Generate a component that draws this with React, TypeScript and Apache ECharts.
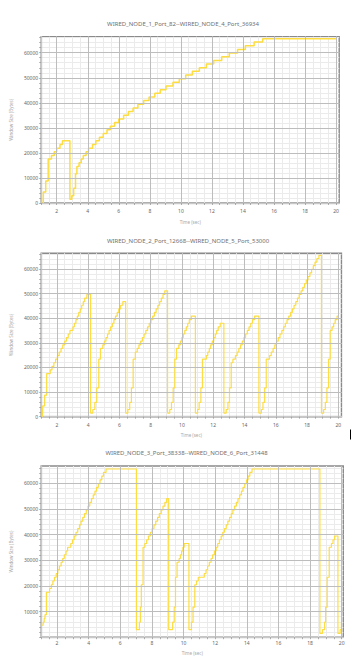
import React, { useEffect, useRef } from 'react';
import * as echarts from 'echarts';

// ---------- data (time in sec, window size in bytes) ----------
const node1Title = 'WIRED_NODE_1_Port_82--WIRED_NODE_4_Port_36934';
const node2Title = 'WIRED_NODE_2_Port_12668--WIRED_NODE_5_Port_53000';
const node3Title = 'WIRED_NODE_3_Port_38338--WIRED_NODE_6_Port_31448';

const xAxisName = 'Time (sec)';
const yAxisName = 'Window Size (Bytes)';

// major grid / labelled ticks
const xMajorTicks = [2, 4, 6, 8, 10, 12, 14, 16, 18, 20];
const yMajorTicks = [10000, 20000, 30000, 40000, 50000, 60000];

const node1Cwnd: [number, number][] = [
  [1.13, 0], [1.14, 4380], [1.29, 8760], [1.45, 17520], [1.66, 18980], [1.84, 20440], [2.0, 21900],
  [2.21, 23360], [2.37, 24820], [2.85, 1460], [2.97, 2920], [3.09, 5840], [3.21, 11680], [3.30, 14600],
  [3.44, 16060], [3.58, 17520], [3.71, 18980], [3.89, 20440], [4.05, 21900], [4.31, 23360], [4.52, 24820],
  [4.75, 26280], [5.0, 27740], [5.24, 29200], [5.45, 30660], [5.73, 32120], [6.0, 33580], [6.31, 35040],
  [6.62, 36500], [6.92, 37960], [7.23, 39420], [7.6, 40880], [7.95, 42340], [8.32, 43800], [8.67, 45260],
  [9.04, 46720], [9.49, 48180], [9.9, 49640], [10.31, 51100], [10.74, 52560], [11.19, 54020], [11.64, 55480],
  [12.11, 56940], [12.63, 58400], [13.12, 59860], [13.65, 61320], [14.15, 62780], [14.72, 64240],
  [15.27, 65535], [20.0, 65535],
];

const node2Cwnd: [number, number][] = [
  [1.08, 0], [1.10, 4380], [1.22, 8760], [1.35, 17520], [1.58, 18980], [1.69, 20440], [1.81, 21900],
  [1.92, 23360], [2.04, 24820], [2.15, 26280], [2.27, 27740], [2.38, 29200], [2.50, 30660], [2.61, 32120],
  [2.73, 33580], [2.84, 35040], [3.03, 36500], [3.12, 37960], [3.22, 39420], [3.31, 40880], [3.40, 42340],
  [3.50, 43800], [3.59, 45260], [3.69, 46720], [3.78, 48180], [3.92, 49640],
  [4.16, 1460], [4.30, 2920], [4.43, 5840], [4.55, 11680], [4.68, 23360], [4.79, 27740], [4.94, 29200],
  [5.04, 30660], [5.14, 32120], [5.24, 33580], [5.34, 35040], [5.44, 36500], [5.55, 37960], [5.65, 39420],
  [5.75, 40880], [5.86, 42340], [5.96, 43800], [6.08, 45260], [6.22, 46720],
  [6.40, 1460], [6.54, 2920], [6.66, 5840], [6.77, 11680], [6.88, 23360], [7.02, 26280], [7.14, 27740],
  [7.25, 29200], [7.36, 30660], [7.47, 32120], [7.58, 33580], [7.69, 35040], [7.80, 36500], [7.91, 37960],
  [8.02, 39420], [8.13, 40880], [8.24, 42340], [8.35, 43800], [8.46, 45260], [8.57, 46720], [8.68, 48180],
  [8.79, 49640], [8.90, 51100],
  [9.08, 1460], [9.22, 2920], [9.33, 5840], [9.44, 11680], [9.54, 23360], [9.65, 27740], [9.80, 29200],
  [9.90, 30660], [9.99, 32120], [10.09, 33580], [10.18, 35040], [10.28, 36500], [10.37, 37960],
  [10.47, 39420], [10.60, 40880],
  [10.86, 1460], [11.00, 2920], [11.10, 5840], [11.21, 11680], [11.31, 23360], [11.56, 24820],
  [11.65, 26280], [11.75, 27740], [11.84, 29200], [11.94, 30660], [12.03, 32120], [12.13, 33580],
  [12.22, 35040], [12.32, 36500], [12.45, 37960],
  [12.68, 1460], [12.83, 2920], [12.94, 5840], [13.04, 11680], [13.15, 21900], [13.26, 23360],
  [13.42, 24820], [13.53, 26280], [13.64, 27740], [13.75, 29200], [13.86, 30660], [13.96, 32120],
  [14.07, 33580], [14.18, 35040], [14.29, 36500], [14.40, 37960], [14.51, 39420], [14.64, 40880],
  [14.92, 1460], [15.08, 2920], [15.18, 5840], [15.29, 11680], [15.39, 23360], [15.60, 24820],
  [15.71, 26280], [15.83, 27740], [15.94, 29200], [16.05, 30660], [16.16, 32120], [16.27, 33580],
  [16.39, 35040], [16.50, 36500], [16.61, 37960], [16.72, 39420], [16.83, 40880], [16.95, 42340],
  [17.06, 43800], [17.17, 45260], [17.28, 46720], [17.39, 48180], [17.50, 49640], [17.62, 51100],
  [17.73, 52560], [17.84, 54020], [17.95, 55480], [18.06, 56940], [18.18, 58400], [18.29, 59860],
  [18.40, 61320], [18.51, 62780], [18.63, 64240], [18.76, 65535],
  [18.92, 1460], [19.06, 2920], [19.17, 5840], [19.27, 11680], [19.38, 23360], [19.48, 35040],
  [19.60, 36500], [19.70, 37960], [19.80, 39420], [19.92, 40880], [20.0, 40880],
];

const node3Cwnd: [number, number][] = [
  [1.10, 4380], [1.14, 5840], [1.19, 7300], [1.24, 8760], [1.33, 17520], [1.53, 18980], [1.64, 20440],
  [1.74, 21900], [1.84, 23360], [1.95, 24820], [2.05, 26280], [2.15, 27740], [2.26, 29200], [2.36, 30660],
  [2.46, 32120], [2.57, 33580], [2.67, 35040], [2.87, 36500], [2.98, 37960], [3.09, 39420], [3.20, 40880],
  [3.31, 42340], [3.42, 43800], [3.52, 45260], [3.63, 46720], [3.74, 48180], [3.85, 49640], [3.96, 51100],
  [4.07, 52560], [4.18, 54020], [4.29, 55480], [4.40, 56940], [4.50, 58400], [4.61, 59860], [4.72, 61320],
  [4.83, 62780], [4.94, 64240], [5.10, 65535],
  [7.02, 2920], [7.21, 5840], [7.27, 11680], [7.33, 20440], [7.44, 35040], [7.55, 36500], [7.67, 37960],
  [7.78, 39420], [7.90, 40880], [8.01, 42340], [8.13, 43800], [8.24, 45260], [8.36, 46720], [8.47, 48180],
  [8.59, 49640], [8.70, 51100], [8.82, 52560], [8.93, 54020],
  [9.06, 2920], [9.31, 5840], [9.41, 11680], [9.49, 23360], [9.59, 29200], [9.72, 30660], [9.80, 32120],
  [9.88, 33580], [9.96, 35040], [10.04, 36500],
  [10.34, 2920], [10.50, 5840], [10.60, 11680], [10.71, 20440], [10.82, 21900], [10.93, 23360],
  [11.31, 24820], [11.42, 26280], [11.52, 27740], [11.63, 29200], [11.74, 30660], [11.84, 32120],
  [11.95, 33580], [12.06, 35040], [12.16, 36500], [12.27, 37960], [12.38, 39420], [12.48, 40880],
  [12.59, 42340], [12.70, 43800], [12.80, 45260], [12.91, 46720], [13.02, 48180], [13.12, 49640],
  [13.23, 51100], [13.34, 52560], [13.44, 54020], [13.55, 55480], [13.66, 56940], [13.76, 58400],
  [13.87, 59860], [13.98, 61320], [14.08, 62780], [14.19, 64240], [14.33, 65535],
  [18.62, 1460], [18.78, 2920], [18.92, 5840], [18.98, 11680], [19.08, 23360], [19.21, 35040],
  [19.35, 36500], [19.45, 37960], [19.55, 39420], [19.76, 1460], [19.90, 2920], [19.98, 5840], [20.0, 5840],
];

// ---------- layout / style ----------
const FONT = 'Noto Sans';
const LINE_COLOR = '#FDDD3F';
const MAJOR = '#bdbdbd';
const MINOR = '#ebebeb';

const panels = [
  {
    title: node1Title, data: node1Cwnd, showZero: true,
    grid: { left: 27, top: 36.7, width: 312.2, height: 166.3 },
    xMax: 20.2, yMax: 66400, titleX: 183, titleY: 20.5,
    labelMargin: 5, xNameGap: 16, yNameGap: 19, lineWidth: 1.5,
  },
  {
    title: node2Title, data: node2Cwnd, showZero: true,
    grid: { left: 35.75, top: 253.2, width: 305.7, height: 163.5 },
    xMax: 20.2, yMax: 66400, titleX: 188, titleY: 237.5,
    labelMargin: 5.5, xNameGap: 15.5, yNameGap: 20, lineWidth: 1.2,
  },
  {
    title: node3Title, data: node3Cwnd, showZero: false,
    grid: { left: 30.6, top: 466, width: 312.7, height: 171.2 },
    xMax: 20.1, yMax: 66700, titleX: 186.5, titleY: 450,
    labelMargin: 3, xNameGap: 13, yNameGap: 20, lineWidth: 1.2,
  },
];

const isEvenInt = (v: number) => {
  const r = Math.round(v);
  return Math.abs(v - r) < 1e-6 && r % 2 === 0;
};

export default function App() {
  const ref = useRef<HTMLDivElement>(null);
  useEffect(() => {
    if (!ref.current) return;
    const chart = echarts.init(ref.current, undefined, { renderer: 'svg' });
    const series: any[] = [];
    panels.forEach((p, i) => {
      // major grid lines (drawn beneath the trace)
      series.push({
        type: 'line',
        xAxisIndex: i,
        yAxisIndex: i,
        data: [],
        z: 1,
        silent: true,
        markLine: {
          silent: true,
          symbol: 'none',
          animation: false,
          label: { show: false },
          lineStyle: { color: MAJOR, width: 1, type: 'solid' },
          emphasis: { disabled: true },
          data: [
            ...xMajorTicks.map((v) => ({ xAxis: v })),
            ...yMajorTicks.map((v) => ({ yAxis: v })),
          ],
        },
      });
      series.push({
        type: 'line',
        xAxisIndex: i,
        yAxisIndex: i,
        data: p.data,
        step: 'end',
        symbol: 'none',
        showSymbol: false,
        clip: true,
        z: 3,
        lineStyle: { color: LINE_COLOR, width: p.lineWidth },
      });
    });
    const option: any = {
      animation: false,
      textStyle: { fontFamily: FONT },
      title: panels.map((p) => ({
        text: p.title,
        left: p.titleX,
        top: p.titleY,
        textAlign: 'center',
        padding: 0,
        textStyle: { fontSize: 6, fontWeight: 'normal', color: '#707070', fontFamily: FONT },
      })),
      grid: panels.map((p) => ({
        ...p.grid,
        show: true,
        borderColor: '#8a8a8a',
        borderWidth: 1.4,
        backgroundColor: 'transparent',
        containLabel: false,
      })),
      xAxis: panels.map((p, i) => ({
        gridIndex: i,
        type: 'value',
        min: 1,
        max: p.xMax,
        interval: 0.5,
        name: xAxisName,
        nameLocation: 'middle',
        nameGap: p.xNameGap,
        nameTextStyle: { fontSize: 4.5, color: '#a8a8a8', fontFamily: FONT },
        axisLine: { show: true, onZero: false, lineStyle: { color: '#c8c8c8', width: 1.4 } },
        axisTick: { show: true, length: 2, lineStyle: { color: '#9a9a9a', width: 0.8 } },
        axisLabel: {
          fontSize: 5,
          color: '#666',
          margin: p.labelMargin,
          showMaxLabel: false,
          hideOverlap: false,
          formatter: (v: number) => (isEvenInt(v) ? String(Math.round(v)) : ''),
        },
        splitLine: {
          show: true,
          showMaxLine: false,
          lineStyle: { color: MINOR, width: 1 },
        },
      })),
      yAxis: panels.map((p, i) => ({
        gridIndex: i,
        type: 'value',
        min: 0,
        max: p.yMax,
        interval: 2000,
        name: yAxisName,
        nameLocation: 'middle',
        nameGap: p.yNameGap,
        nameRotate: 90,
        nameTextStyle: { fontSize: 4.5, color: '#a8a8a8', fontFamily: FONT },
        axisLine: { show: true, onZero: false, lineStyle: { color: '#c8c8c8', width: 1.4 } },
        axisTick: { show: true, length: 2, lineStyle: { color: '#9a9a9a', width: 0.8 } },
        axisLabel: {
          fontSize: 5,
          color: '#666',
          margin: 3,
          showMaxLabel: false,
          hideOverlap: false,
          formatter: (v: number) =>
            v % 10000 === 0 && (p.showZero || v !== 0) ? String(v) : '',
        },
        splitLine: {
          show: true,
          showMaxLine: false,
          lineStyle: { color: MINOR, width: 1 },
        },
      })),
      series,
      graphic: [
        { type: 'rect', shape: { x: 350, y: 429.5, width: 1, height: 10 }, style: { fill: '#000' } },
      ],
    };
    chart.setOption(option);
    return () => chart.dispose();
  }, []);
  return (
    <div
      ref={ref}
      style={{ position: 'absolute', left: 0, top: 0, width: 361, height: 662, background: '#fff' }}
    />
  );
}
